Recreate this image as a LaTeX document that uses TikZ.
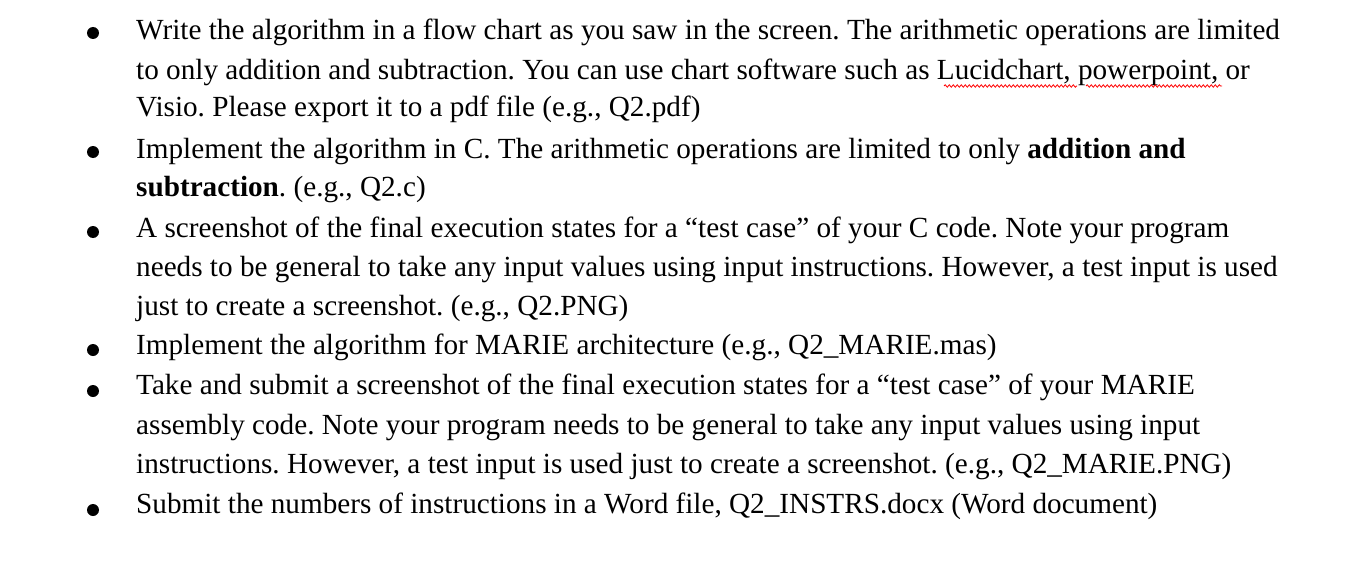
\documentclass[tikz,border=0pt]{standalone}
\usepackage{fontspec}
\setmainfont{Liberation Serif}
\usetikzlibrary{decorations.pathmorphing}
\begin{document}
\frenchspacing
\begin{tikzpicture}[x=1pt,y=-1pt,
  ln/.style={anchor=base west,inner sep=0pt,font=\fontsize{29.2}{32}\selectfont\frenchspacing},
  bul/.style={circle,fill=black,inner sep=0pt,minimum size=12pt}]
\useasboundingbox (0,0) rectangle (1360,586);
\node[bul] (b1) at (93,33) {};
\node[bul] (b2) at (93,152) {};
\node[bul] (b3) at (93,232) {};
\node[bul] (b4) at (93,350) {};
\node[bul] (b5) at (93,391) {};
\node[bul] (b6) at (93,510) {};
\node[ln] (l1) at (136,40) {Write the algorithm in a flow chart as you saw in the screen. The arithmetic operations are limited};
\node[ln] (l2) at (136,79) {to only addition and subtraction. You can use chart software such as Lucidchart, powerpoint, or};
\node[ln] (l3) at (136,116) {Visio. Please export it to a pdf file (e.g., Q2.pdf)};
\node[ln] (l4) at (136,158) {Implement the algorithm in C. The arithmetic operations are limited to only \textbf{addition and}};
\node[ln] (l5) at (136,196) {\textbf{subtraction}. (e.g., Q2.c)};
\node[ln] (l6) at (136,237) {A screenshot of the final execution states for a “test case” of your C code. Note your program};
\node[ln] (l7) at (136,276) {needs to be general to take any input values using input instructions. However, a test input is used};
\node[ln] (l8) at (136,315) {just to create a screenshot. (e.g., Q2.PNG)};
\node[ln] (l9) at (136,354) {Implement the algorithm for MARIE architecture (e.g., Q2\_MARIE.mas)};
\node[ln] (l10) at (136,394) {Take and submit a screenshot of the final execution states for a “test case” of your MARIE};
\node[ln] (l11) at (136,434) {assembly code. Note your program needs to be general to take any input values using input};
\node[ln] (l12) at (136,473) {instructions. However, a test input is used just to create a screenshot. (e.g., Q2\_MARIE.PNG)};
\node[ln] (l13) at (136,513) {Submit the numbers of instructions in a Word file, Q2\_INSTRS.docx (Word document)};
\coordinate (s1) at (944,86);
\coordinate (s2) at (1077,86);
\coordinate (s3) at (1086,86);
\coordinate (s4) at (1222,86);
\draw[red,line width=0.8pt,decorate,decoration={snake,amplitude=1.2pt,segment length=4pt}] (s1) -- (s2);
\draw[red,line width=0.8pt,decorate,decoration={snake,amplitude=1.2pt,segment length=4pt}] (s3) -- (s4);
\end{tikzpicture}
\end{document}
